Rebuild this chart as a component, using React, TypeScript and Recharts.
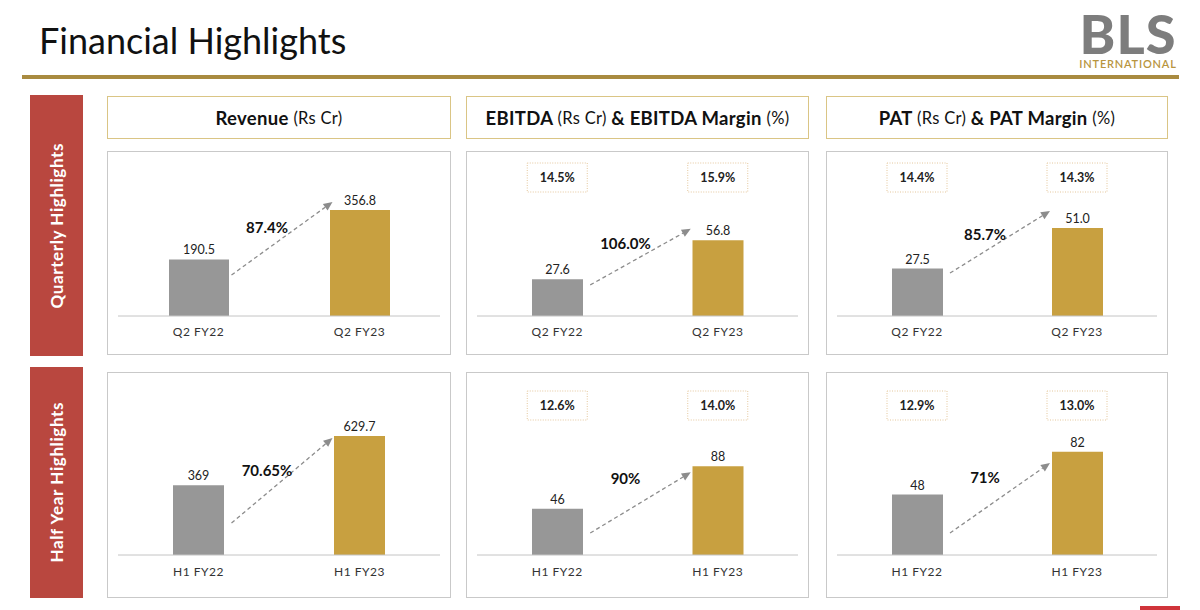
import React from "react";
import { BarChart, Bar, XAxis, YAxis, Cell, LabelList, ReferenceLine } from "recharts";

const quarterLabels = ["Q2 FY22", "Q2 FY23"];
const halfYearLabels = ["H1 FY22", "H1 FY23"];

const revenueQuarter = [190.5, 356.8];
const ebitdaQuarter = [27.6, 56.8];
const patQuarter = [27.5, 51.0];
const revenueHalf = [369, 629.7];
const ebitdaHalf = [46, 88];
const patHalf = [48, 82];

const ebitdaMarginQuarter = ["14.5%", "15.9%"];
const patMarginQuarter = ["14.4%", "14.3%"];
const ebitdaMarginHalf = ["12.6%", "14.0%"];
const patMarginHalf = ["12.9%", "13.0%"];

const growthQuarter = ["87.4%", "106.0%", "85.7%"];
const growthHalf = ["70.65%", "90%", "71%"];

// growth arrow: start value, end value, height of the % label (chart units)
const arrowQuarter = [[138, 384, 300], [23.3, 65.4, 54.9], [24.9, 60.9, 47.5]];
const arrowHalf = [[169, 619, 450], [21.8, 82, 76], [17.5, 73, 62]];
const yMaxQuarter = [404, 90, 69.6];
const yMaxHalf = [693, 130, 104];

const FONT = "'Lato', 'Open Sans', sans-serif";
const GREY = "#979797";
const GOLD = "#c8a040";

const cols = [
  { x: 107, w: 344 },
  { x: 466, w: 343 },
  { x: 826, w: 342 },
];
const rows = [
  { y: 151, h: 204, topH: 44, bottomH: 38, tickMargin: 11 },
  { y: 372, h: 226, topH: 51, bottomH: 42, tickMargin: 12 },
];

function GrowthArrow(props: any) {
  const { x1, y1, x2, y2, from, to, at, text } = props;
  if (x1 == null || y1 == null) return null;
  const sx = x1 + 33;
  const ex = x2 - 27;
  const ang = Math.atan2(y2 - y1, ex - sx);
  const hl = 9;
  const hw = 4;
  const bx = ex - hl * Math.cos(ang);
  const by = y2 - hl * Math.sin(ang);
  const px = -Math.sin(ang) * hw;
  const py = Math.cos(ang) * hw;
  const ly = y1 + ((at - from) / (to - from)) * (y2 - y1);
  const lx = (x1 + x2) / 2 - 12;
  return (
    <g>
      <line x1={sx} y1={y1} x2={bx} y2={by} stroke="#8c8c8c" strokeWidth={1.3} strokeDasharray="4 3" />
      <polygon points={`${ex},${y2} ${bx + px},${by + py} ${bx - px},${by - py}`} fill="#8c8c8c" />
      <text x={lx} y={ly} textAnchor="middle" dominantBaseline="central" fontFamily={FONT} fontWeight={700} fontSize={15} fill="#111">
        {text}
      </text>
    </g>
  );
}

function MarginTick(props: any) {
  const { x, y, index, margins } = props;
  return (
    <g>
      <rect x={x - 30} y={y - 33} width={60} height={29} fill="#fff" stroke="#e4c79c" strokeDasharray="1 1.5" />
      <text x={x} y={y - 18.5} textAnchor="middle" dominantBaseline="central" fontFamily={FONT} fontWeight={700} fontSize={12.5} fill="#222">
        {margins[index]}
      </text>
    </g>
  );
}

interface PanelProps {
  col: number;
  row: number;
  cats: string[];
  values: number[];
  margins?: string[];
  growth: string;
  arrow: number[];
  yMax: number;
  decimals: boolean;
  barSize: number;
}

function Panel({ col, row, cats, values, margins, growth, arrow, yMax, decimals, barSize }: PanelProps) {
  const c = cols[col];
  const r = rows[row];
  const data = cats.map((cat, i) => ({ cat, value: values[i] }));
  return (
    <div
      style={{
        position: "absolute",
        left: c.x,
        top: r.y,
        width: c.w,
        height: r.h,
        border: "1px solid #c9c9c9",
        boxSizing: "border-box",
      }}
    >
      <BarChart
        width={c.w - 2}
        height={r.h - 2}
        data={data}
        margin={{ top: margins ? 0 : r.topH, right: 10, bottom: 0, left: 10 }}
      >
        {margins && (
          <XAxis
            xAxisId="top"
            orientation="top"
            dataKey="cat"
            height={r.topH}
            axisLine={false}
            tickLine={false}
            tickSize={0}
            tickMargin={0}
            interval={0}
            tick={<MarginTick margins={margins} />}
          />
        )}
        <XAxis
          dataKey="cat"
          height={r.bottomH}
          axisLine={{ stroke: "#c4c4c4" }}
          tickLine={false}
          tickSize={0}
          tickMargin={r.tickMargin}
          interval={0}
          tick={{ fill: "#333", fontSize: 12, fontFamily: FONT, letterSpacing: 0.5 }}
        />
        <YAxis hide domain={[0, yMax]} allowDataOverflow />
        <Bar dataKey="value" barSize={barSize} isAnimationActive={false}>
          {data.map((d, i) => (
            <Cell key={d.cat} fill={i === 0 ? GREY : GOLD} />
          ))}
          <LabelList
            dataKey="value"
            position="top"
            offset={5}
            formatter={(v: any) => (decimals ? Number(v).toFixed(1) : String(v))}
            fill="#222"
            fontSize={12.5}
            fontFamily={FONT}
          />
        </Bar>
        <ReferenceLine
          segment={[
            { x: cats[0], y: arrow[0] },
            { x: cats[1], y: arrow[1] },
          ]}
          shape={(p: any) => <GrowthArrow {...p} from={arrow[0]} to={arrow[1]} at={arrow[2]} text={growth} />}
        />
      </BarChart>
    </div>
  );
}

function Header({ col, bold1, reg1, bold2, reg2 }: { col: number; bold1: string; reg1: string; bold2?: string; reg2?: string }) {
  const c = cols[col];
  return (
    <div
      style={{
        position: "absolute",
        left: c.x,
        top: 96,
        width: c.w,
        height: 43,
        border: "1.5px solid #dac585",
        boxSizing: "border-box",
        display: "flex",
        alignItems: "center",
        justifyContent: "center",
        fontFamily: FONT,
        color: "#111",
        whiteSpace: "pre",
        letterSpacing: 0.3,
      }}
    >
      <span style={{ fontWeight: 700, fontSize: 18.5 }}>{bold1}</span>
      <span style={{ fontSize: 16.5 }}>{reg1}</span>
      {bold2 && <span style={{ fontWeight: 700, fontSize: 18.5 }}>{bold2}</span>}
      {reg2 && <span style={{ fontSize: 16.5 }}>{reg2}</span>}
    </div>
  );
}

function SideLabel({ top, height, text }: { top: number; height: number; text: string }) {
  return (
    <div
      style={{
        position: "absolute",
        left: 30,
        top,
        width: 53,
        height,
        background: "#b9473f",
        display: "flex",
        alignItems: "center",
        justifyContent: "center",
      }}
    >
      <span
        style={{
          writingMode: "vertical-rl",
          transform: "rotate(180deg)",
          color: "#fff",
          fontFamily: FONT,
          fontWeight: 700,
          fontSize: 17,
          letterSpacing: 0.6,
        }}
      >
        {text}
      </span>
    </div>
  );
}

export default function App() {
  return (
    <div style={{ position: "absolute", left: 0, top: 0, width: 1200, height: 610, background: "#fff", overflow: "hidden" }}>
      <div
        style={{
          position: "absolute",
          left: 39,
          top: 18,
          fontFamily: FONT,
          fontSize: 36,
          color: "#111",
          lineHeight: "44px",
        }}
      >
        Financial Highlights
      </div>
      <div style={{ position: "absolute", left: 22, top: 75, width: 1157, height: 3.5, background: "#a98b40" }} />
      <div
        style={{
          position: "absolute",
          left: 1076,
          top: 12,
          width: 104,
          height: 44,
          textAlign: "center",
          fontFamily: FONT,
          fontWeight: 900,
          fontSize: 54,
          lineHeight: "44px",
          color: "#7d7d7d",
          letterSpacing: 1,
        }}
      >
        BLS
      </div>
      <div
        style={{
          position: "absolute",
          left: 1076,
          top: 58,
          width: 104,
          height: 11,
          textAlign: "center",
          fontFamily: FONT,
          fontWeight: 600,
          fontSize: 11,
          lineHeight: "11px",
          letterSpacing: 0.8,
          color: "#b8953e",
        }}
      >
        INTERNATIONAL
      </div>

      <SideLabel top={95} height={261} text="Quarterly Highlights" />
      <SideLabel top={367} height={231} text="Half Year Highlights" />

      <Header col={0} bold1="Revenue " reg1="(Rs Cr)" />
      <Header col={1} bold1="EBITDA " reg1="(Rs Cr) " bold2="& EBITDA Margin " reg2="(%)" />
      <Header col={2} bold1="PAT " reg1="(Rs Cr) " bold2="& PAT Margin " reg2="(%)" />

      <Panel col={0} row={0} cats={quarterLabels} values={revenueQuarter} growth={growthQuarter[0]} arrow={arrowQuarter[0]} yMax={yMaxQuarter[0]} decimals barSize={60} />
      <Panel col={1} row={0} cats={quarterLabels} values={ebitdaQuarter} margins={ebitdaMarginQuarter} growth={growthQuarter[1]} arrow={arrowQuarter[1]} yMax={yMaxQuarter[1]} decimals barSize={51} />
      <Panel col={2} row={0} cats={quarterLabels} values={patQuarter} margins={patMarginQuarter} growth={growthQuarter[2]} arrow={arrowQuarter[2]} yMax={yMaxQuarter[2]} decimals barSize={51} />

      <Panel col={0} row={1} cats={halfYearLabels} values={revenueHalf} growth={growthHalf[0]} arrow={arrowHalf[0]} yMax={yMaxHalf[0]} decimals={false} barSize={51} />
      <Panel col={1} row={1} cats={halfYearLabels} values={ebitdaHalf} margins={ebitdaMarginHalf} growth={growthHalf[1]} arrow={arrowHalf[1]} yMax={yMaxHalf[1]} decimals={false} barSize={51} />
      <Panel col={2} row={1} cats={halfYearLabels} values={patHalf} margins={patMarginHalf} growth={growthHalf[2]} arrow={arrowHalf[2]} yMax={yMaxHalf[2]} decimals={false} barSize={51} />

      <div style={{ position: "absolute", left: 1140, top: 606, width: 40, height: 4, background: "#d0343a" }} />
    </div>
  );
}
